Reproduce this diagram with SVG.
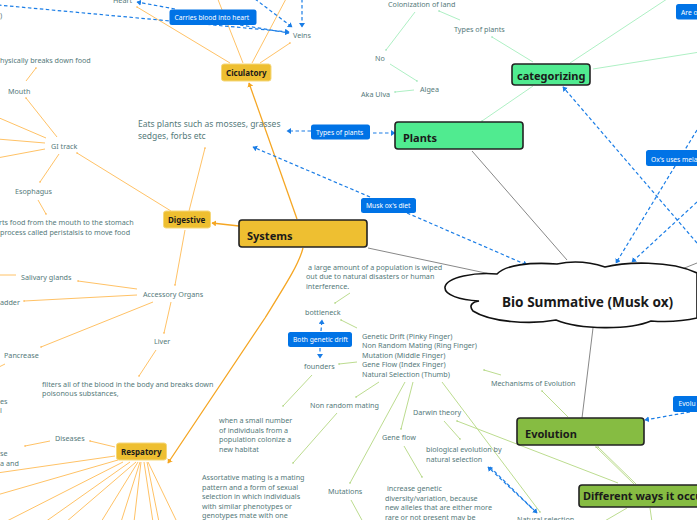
<svg xmlns="http://www.w3.org/2000/svg" width="697" height="520" viewBox="0 0 697 520">
<style>
text{font-family:"Noto Sans","Open Sans","DejaVu Sans",sans-serif}
.t{font-size:7.200px;fill:#557a7a}
.b{font-size:6.700px;fill:#fff}
.lbl{fill:#0073e6}
.o{stroke:#ffc266;stroke-width:1;fill:none;marker-end:url(#mo)}
.g{stroke:#aef0c4;stroke-width:1;fill:none;marker-end:url(#mg)}
.v{stroke:#bcdc8f;stroke-width:1;fill:none;marker-end:url(#mv)}
.n{stroke:#888;stroke-width:1;fill:none}
.d{stroke:#1a7de6;stroke-width:1.200;stroke-dasharray:3.500 2.500;fill:none;marker-end:url(#mb)}
.sys{stroke:#f5a623;stroke-width:1.300;fill:none;marker-end:url(#ms)}
.box{stroke:#222;stroke-width:1.600}
.sub{fill:#eebf31;stroke:#f5d77a;stroke-width:1}
.hd{font-weight:700;fill:#1a1a1a}
</style>
<defs>
<marker id="mo" markerWidth="4" markerHeight="4" refX="2" refY="2"><circle cx="2" cy="2" r="0.8" fill="#ffb040"/></marker>
<marker id="mg" markerWidth="4" markerHeight="4" refX="2" refY="2"><circle cx="2" cy="2" r="0.8" fill="#8fe0ad"/></marker>
<marker id="mv" markerWidth="4" markerHeight="4" refX="2" refY="2"><circle cx="2" cy="2" r="0.8" fill="#a5d070"/></marker>
<marker id="mb" markerWidth="8" markerHeight="8" refX="4" refY="3" orient="auto" markerUnits="userSpaceOnUse"><path d="M0 0L4.500 3L0 6Z" fill="#1a7de6"/></marker>
<marker id="ms" markerWidth="8" markerHeight="8" refX="4" refY="3" orient="auto" markerUnits="userSpaceOnUse"><path d="M0 0L4.500 3L0 6Z" fill="#f5a623"/></marker>
</defs>
<g id="connectors">
<path class="o" d="M230 63L137 7"/><path class="o" d="M243 63L217 -3"/><path class="o" d="M252 63L287 -3"/><path class="o" d="M260 63L290 43"/>
<path class="o" d="M26 81L36 68"/><path class="o" d="M57 137L26 98"/><path class="o" d="M46 138L-3 117"/><path class="o" d="M45 143L-3 139"/><path class="o" d="M45 149L-3 158"/><path class="o" d="M59 154L40 182"/><path class="o" d="M38 200L46 214"/><path class="o" d="M171 211L77 153"/><path class="o" d="M189 211L205 148"/><path class="o" d="M185 230L175 285"/><path class="o" d="M171 302L164 333"/><path class="o" d="M156 350L139 376"/>
<path class="o" d="M137 289L78 281"/><path class="o" d="M137 295L24 301"/><path class="o" d="M153 302L41 347"/><path class="o" d="M16 275L-3 275"/><path class="o" d="M5 364L-3 368"/>
<path class="o" d="M115 447L90 441"/><path class="o" d="M50 441L25 446"/>
<path class="o" d="M115 456L-3 473"/><path class="o" d="M118 460L-3 495"/><path class="o" d="M123 462L5 522"/><path class="o" d="M130 462L45 522"/><path class="o" d="M136 462L66 522"/><path class="o" d="M138 462L101 522"/><path class="o" d="M140 462L121 522"/><path class="o" d="M141 462L134 522"/><path class="o" d="M144 462L153 522"/><path class="o" d="M147 462L159 522"/><path class="o" d="M148 462L177 522"/>
<path class="sys" d="M297 219L249 83"/><path class="sys" d="M239 226L212 223"/><path class="sys" d="M303 248C299 264 286 284 265 318L168 463"/>
<path class="g" d="M533 62L492 37"/><path class="g" d="M460 20L439 11"/><path class="g" d="M415 12L386 50"/><path class="g" d="M390 64L417 81"/><path class="g" d="M414 90L395 92"/><path class="g" d="M533 86L482 121"/>
<path class="g" d="M570 63L670 -3"/><path class="g" d="M593 69L700 52"/>
<path class="n" d="M472 151L567 260"/><path class="n" d="M368 248L495 275"/><path class="n" d="M682 269L697 263"/><path class="n" d="M593 328L582 418"/>
<path class="v" d="M350 293L335 303"/><path class="v" d="M357 328L341 320"/><path class="v" d="M357 362L339 364"/><path class="v" d="M312 375L283 406"/><path class="v" d="M337 413L293 463"/>
<path class="v" d="M379 382L356 397"/><path class="v" d="M405 382L350 483"/><path class="v" d="M413 382L401 429"/><path class="v" d="M442 382L540 512"/><path class="v" d="M501 375L484 370"/>
<path class="v" d="M568 417L542 391"/><path class="v" d="M444 421L460 439"/><path class="v" d="M404 446L422 477"/><path class="v" d="M618 483L457 421"/><path class="v" d="M636 484L598 447"/><path class="v" d="M634 484L596 447"/>
<path class="v" d="M351 500L363 522"/><path class="v" d="M627 508L603 522"/><path class="v" d="M650 508L652 522"/>
<path class="d" d="M175 9L137 2"/><path class="d" d="M-2 5L289 32"/><path class="d" d="M240 25L289 33"/><path class="d" d="M255 -1L292 27"/><path class="d" d="M302 -1L302 27"/>
<path class="d" d="M311 131L287 131"/><path class="d" d="M373 133L395 133"/><path class="d" d="M370 197L253 147"/><path class="d" d="M407 213L527 265"/>
<path class="d" d="M321 331L322 320"/><path class="d" d="M320 348L320 358"/>
<path class="d" d="M697 243L563 87"/><path class="d" d="M697 130L616 263"/><path class="d" d="M697 202L632 262"/>
<path class="d" d="M690 412L645 420"/><path class="d" d="M490 467L537 513"/><path class="d" d="M537 513L488 467"/>
</g>
<g id="root"><path d="M497 274C505 265 530 262 557 264C575 260 590 262 605 267C625 262 670 260 697 273V318C680 322 665 322 651 321C630 330 580 330 556 320C530 325 490 322 473 311C468 305 473 302 479 301C460 300 444 295 445 287C447 277 475 272 497 274Z" fill="#fff" stroke="#111" stroke-width="1.600"/><text x="502" y="307" font-size="13.600" class="hd">Bio Summative (Musk ox)</text></g>
<g id="plants"><rect x="395" y="122" width="128" height="27" rx="3" fill="#50eb90" class="box"/><text x="403" y="142" font-size="11" class="hd">Plants</text></g>
<g id="categorizing"><rect x="512" y="64" width="78" height="21" rx="3" fill="#50eb90" class="box"/><text x="517" y="80" font-size="11" class="hd">categorizing</text></g>
<g id="systems"><rect x="239" y="220" width="128" height="27" rx="3" fill="#eebf31" class="box"/><text x="247" y="240" font-size="11" class="hd">Systems</text></g>
<g id="evolution"><rect x="517" y="418" width="127" height="27" rx="3" fill="#86bc42" class="box"/><text x="525" y="438" font-size="11" class="hd">Evolution</text></g>
<g id="ways"><rect x="579" y="485" width="130" height="22" rx="3" fill="#86bc42" class="box"/><text x="583" y="500" font-size="11" class="hd">Different ways it occurs</text></g>
<g id="ciculatory"><rect x="221.500" y="64" width="49.500" height="17" rx="2.500" class="sub"/><text x="226" y="76" font-size="8" class="hd">Ciculatory</text></g>
<g id="digestive"><rect x="163.500" y="211" width="47" height="17" rx="2.500" class="sub"/><text x="168" y="223" font-size="8" class="hd">Digestive</text></g>
<g id="respatory"><rect x="116.500" y="443" width="50" height="17" rx="2.500" class="sub"/><text x="121" y="455" font-size="8" class="hd">Respatory</text></g>
<g id="labels">
<rect class="lbl" x="169.500" y="9.500" width="87" height="15.500" rx="2.500"/><text class="b" x="174.500" y="20">Carries blood into heart</text>
<rect class="lbl" x="311" y="124.500" width="59" height="15" rx="2.500"/><text class="b" x="316" y="135">Types of plants</text>
<rect class="lbl" x="361" y="198" width="55" height="15" rx="2.500"/><text class="b" x="366" y="208">Musk ox's diet</text>
<rect class="lbl" x="288" y="332" width="64" height="15" rx="2.500"/><text class="b" x="293" y="342">Both genetic drift</text>
<rect class="lbl" x="646" y="150" width="60" height="16" rx="2.500"/><text class="b" x="651" y="161.500">Ox's uses mela</text>
<rect class="lbl" x="676" y="4" width="30" height="15.500" rx="2.500"/><text class="b" x="681" y="14.500">Are o</text>
<rect class="lbl" x="673" y="396" width="30" height="16" rx="2.500"/><text class="b" x="678.500" y="406">Evolu</text>
</g>
<g id="texts">
<text class="t" x="113" y="3">Heart</text><text class="t" x="293" y="38">Veins</text>
<text class="t" x="0" y="18">)</text>
<text class="t" x="0" y="63">hysically breaks down food</text><text class="t" x="8" y="94">Mouth</text><text class="t" x="51" y="149">GI track</text><text class="t" x="15" y="194">Esophagus</text>
<text class="t" x="-1" y="225">rts food from the mouth to the stomach</text><text class="t" x="0" y="235">process called peristalsis to move food</text>
<text font-size="8.500" fill="#557a7a" x="138" y="127">Eats plants such as mosses, grasses</text><text font-size="8.500" fill="#557a7a" x="138" y="139">sedges, forbs etc</text>
<text class="t" x="21" y="280">Salivary glands</text><text class="t" x="0" y="305">adder</text><text class="t" x="143" y="297">Accessory Organs</text><text class="t" x="4" y="358">Pancrease</text><text class="t" x="154" y="344">Liver</text>
<text class="t" x="42" y="387">filters all of the blood in the body and breaks down</text><text class="t" x="42" y="396">poisonous substances,</text>
<text class="t" x="0" y="404">es</text><text class="t" x="0" y="413">l</text>
<text class="t" x="55" y="441">Diseases</text><text class="t" x="0" y="456">se</text><text class="t" x="0" y="466">a and</text>
<text class="t" x="308" y="270">a large amount of a population is wiped</text><text class="t" x="306" y="279">out due to natural disasters or human</text><text class="t" x="306" y="289">interference.</text>
<text class="t" x="305" y="315">bottleneck</text><text class="t" x="304" y="369">founders</text><text class="t" x="310" y="408">Non random mating</text>
<text class="t" x="362" y="339">Genetic Drift (Pinky Finger)</text><text class="t" x="362" y="348">Non Random Mating (Ring Finger)</text><text class="t" x="362" y="358">Mutation (Middle Finger)</text><text class="t" x="362" y="367">Gene Flow (Index Finger)</text><text class="t" x="362" y="377">Natural Selection (Thumb)</text>
<text class="t" x="491" y="386">Mechanisms of Evolution</text><text class="t" x="413" y="415">Darwin theory</text><text class="t" x="382" y="440">Gene flow</text>
<text class="t" x="426" y="452">biological evolution by</text><text class="t" x="426" y="462">natural selection</text>
<text class="t" x="219" y="423">when a small number</text><text class="t" x="219" y="433">of individuals from a</text><text class="t" x="219" y="442">population colonize a</text><text class="t" x="219" y="452">new habitat</text>
<text class="t" x="202" y="480">Assortative mating is a mating</text><text class="t" x="202" y="490">pattern and a form of sexual</text><text class="t" x="202" y="499">selection in which individuals</text><text class="t" x="202" y="509">with similar phenotypes or</text><text class="t" x="202" y="518">genotypes mate with one</text>
<text class="t" x="328" y="494">Mutations</text>
<text class="t" x="387" y="491">increase genetic</text><text class="t" x="385" y="501">diversity/variation, because</text><text class="t" x="385" y="510">new alleles that are either more</text><text class="t" x="385" y="520">rare or not present may be</text>
<text class="t" x="517" y="522">Natural selection</text>
<text class="t" x="388" y="7">Colonization of land</text><text class="t" x="454" y="32">Types of plants</text><text class="t" x="375" y="61">No</text><text class="t" x="420" y="92">Algea</text><text class="t" x="361" y="97">Aka Ulva</text>
</g>
</svg>
